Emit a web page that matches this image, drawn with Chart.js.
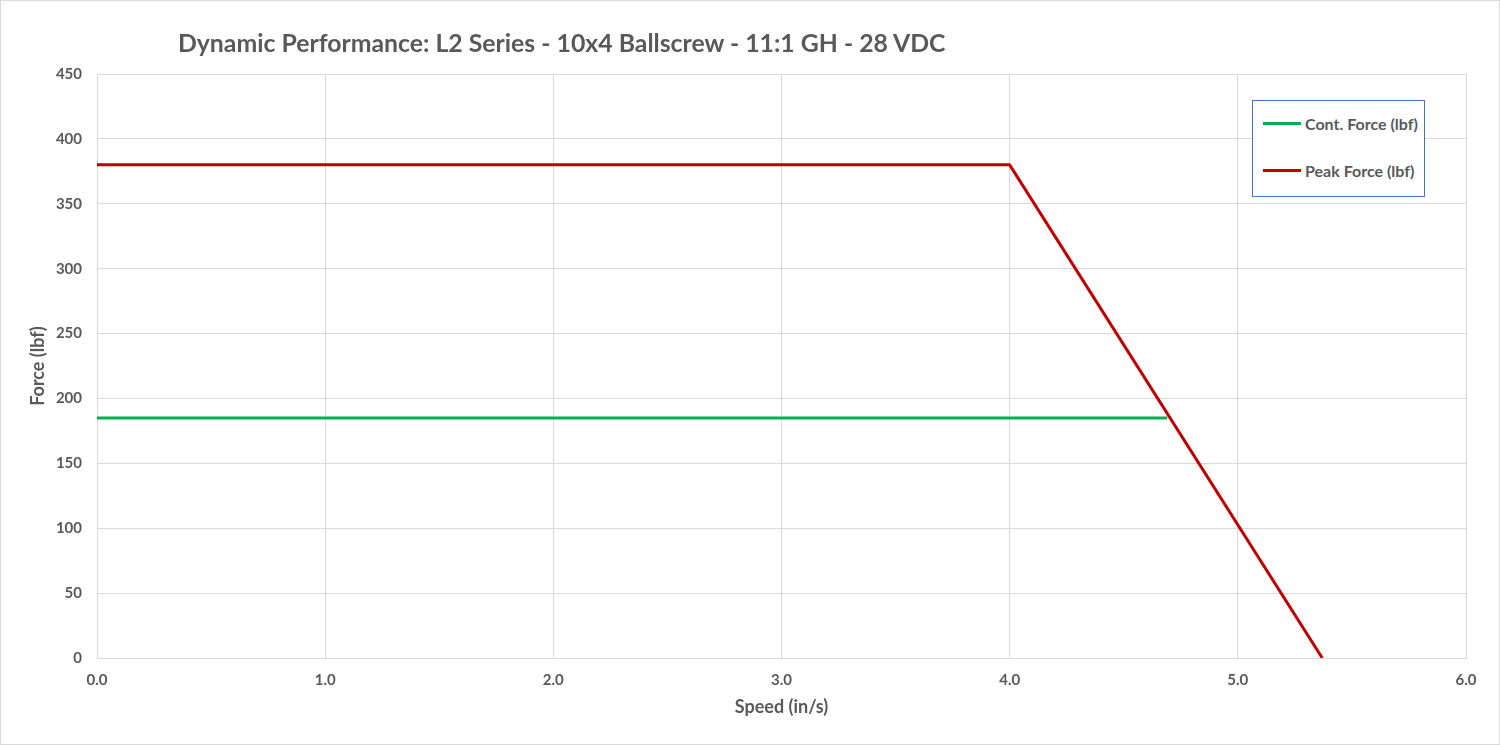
<!DOCTYPE html>
<html>
<head>
<meta charset="utf-8">
<script src="https://cdn.jsdelivr.net/npm/chart.js@4"></script>
<style>
  html, body { margin: 0; padding: 0; background: #fff; }
  #wrap { position: relative; width: 1500px; height: 745px; box-sizing: border-box; border: 1px solid #d9d9d9; }
  #title { position: absolute; left: 177px; top: 27px; font: bold 24.8px Lato, sans-serif; color: #595959; white-space: nowrap; }
  #legend { position: absolute; left: 1251px; top: 99px; width: 171px; height: 95px; border: 1px solid #4472c4; background: #fff;
            font: bold 16px Lato, sans-serif; color: #595959; }
  .item { position: absolute; left: 10px; display: flex; align-items: center; white-space: nowrap; }
  .item span.sw { display: inline-block; width: 38px; height: 3px; margin-right: 4px; }
</style>
</head>
<body>
<div id="wrap">
  <canvas id="chart" width="1498" height="743"></canvas>
  <div id="title">Dynamic Performance: L2 Series - 10x4 Ballscrew - 11:1 GH - 28 VDC</div>
  <div id="legend">
    <div class="item" style="top:13px"><span class="sw" style="background:#00b050"></span>Cont. Force (lbf)</div>
    <div class="item" style="top:60px"><span class="sw" style="background:#c00000"></span>Peak Force (lbf)</div>
  </div>
</div>
<script>
'use strict';

const contSpeed = [0, 4.69];
const contForce = [185, 185];
const peakSpeed = [0, 4.0, 5.37];
const peakForce = [380, 380, 0];

const pts = (xs, ys) => xs.map((x, i) => ({ x: x, y: ys[i] }));
const grey = '#595959';
const tickFont = { family: 'Lato, sans-serif', size: 15, weight: 'bold' };
const titleFont = { family: 'Lato, sans-serif', size: 18, weight: 'bold' };

new Chart(document.getElementById('chart').getContext('2d'), {
    type: 'line',
    data: {
        datasets: [
            {
                label: 'Cont. Force (lbf)',
                data: pts(contSpeed, contForce),
                borderColor: '#00b050',
                borderWidth: 3,
                pointRadius: 0,
                tension: 0
            },
            {
                label: 'Peak Force (lbf)',
                data: pts(peakSpeed, peakForce),
                borderColor: '#c00000',
                borderWidth: 3,
                pointRadius: 0,
                borderJoinStyle: 'round',
                tension: 0
            }
        ]
    },
    options: {
        responsive: false,
        animation: false,
        layout: { padding: { left: 22, top: 73, right: 33, bottom: 22 } },
        plugins: { legend: { display: false }, tooltip: { enabled: false } },
        scales: {
            x: {
                type: 'linear',
                min: 0, max: 6,
                ticks: { stepSize: 1, color: grey, font: tickFont, padding: 13, callback: v => v.toFixed(1) },
                grid: { color: '#d9d9d9', lineWidth: 1, drawTicks: false },
                border: { color: '#d9d9d9' },
                title: { display: true, text: 'Speed (in/s)', color: grey, font: titleFont },
                afterFit: s => { s.height = 64; }
            },
            y: {
                min: 0, max: 450,
                ticks: { stepSize: 50, color: grey, font: tickFont, padding: 15 },
                grid: { color: '#d9d9d9', lineWidth: 1, drawTicks: false },
                border: { display: false },
                title: { display: true, text: 'Force (lbf)', color: grey, font: titleFont },
                afterFit: s => { s.width = 74; }
            }
        }
    }
});
</script>
</body>
</html>
